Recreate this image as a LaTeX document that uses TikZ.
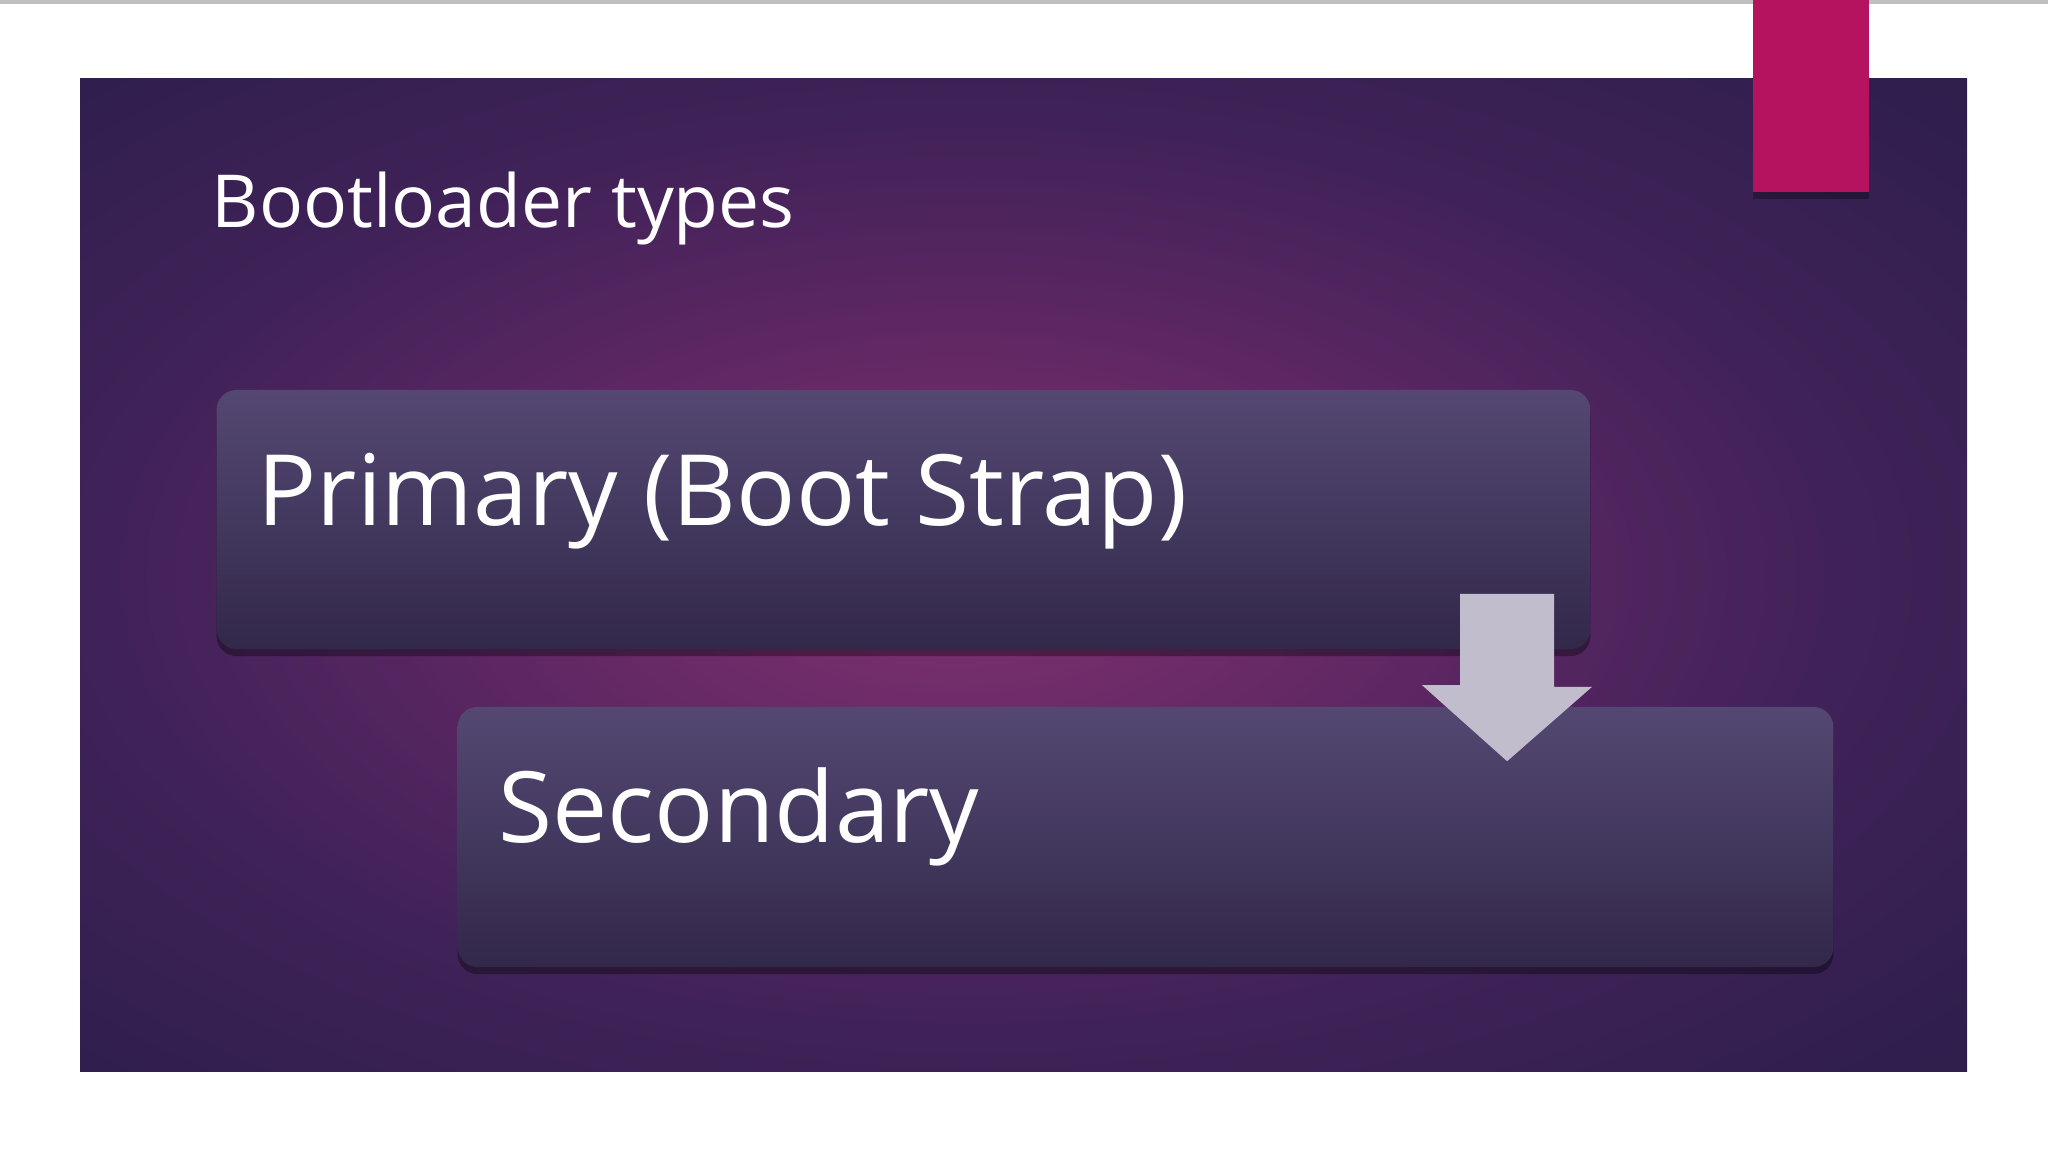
\documentclass[tikz,border=0pt]{standalone}
\usepackage{fontspec}
\setmainfont{Open Sans}
\usepackage{tikz}
\usetikzlibrary{calc}
\usetikzlibrary{shadows}

\definecolor{glowmid}{RGB}{118,46,108}
\definecolor{glowring}{RGB}{90,38,98}
\definecolor{glowouter}{RGB}{64,34,88}
\definecolor{glowedge}{RGB}{48,31,78}
\definecolor{glowcorner}{RGB}{36,30,70}
\definecolor{boxtop}{RGB}{84,72,114}
\definecolor{boxbot}{RGB}{50,40,74}
\definecolor{arrowgrey}{RGB}{194,189,204}
\definecolor{tabpink}{RGB}{181,19,95}

\pgfdeclareradialshading{slideglow}{\pgfpoint{-2bp}{0bp}}{%
  color(0bp)=(glowmid); color(4bp)=(glowmid); color(14bp)=(glowring);
  color(23bp)=(glowouter); color(34bp)=(glowedge); color(50bp)=(glowcorner);
  color(71bp)=(glowcorner)}

\tikzset{
  stepbox/.style={rounded corners=0.2cm, top color=boxtop, bottom color=boxbot,
    drop shadow={fill=black, shadow xshift=0pt, shadow yshift=-2pt, opacity=0.35}},
  boxlabel/.style={text=white, font=\fontsize{28}{33}\selectfont, inner sep=0pt},
  blockarrow/.style={fill=arrowgrey}
}

\begin{document}
\begin{tikzpicture}[x=0.01cm,y=-0.01cm]
    \useasboundingbox (0,0) rectangle (2048,1152);
    \fill[white] (0,0) rectangle (2048,1152);
    \draw[black!25, line width=1.5pt] (0,1) -- (2048,1);
    % slide background
    \shade[shading=slideglow] (80,79) rectangle (1967,1071);
    \fill[tabpink, drop shadow={fill=black, shadow xshift=0pt, shadow yshift=-2pt, opacity=0.3}]
      (1753,0) rectangle (1869,192);
    \node[anchor=base west, text=white, inner sep=0pt,
      font=\fontsize{20.8}{25}\selectfont] (title) at (211,228) {Bootloader types};
    % the two boxes
    \node[stepbox, minimum width=13.73cm, minimum height=2.59cm] (prim) at (903.5,519.5) {};
    \node[stepbox, minimum width=13.75cm, minimum height=2.60cm] (sec) at (1145.5,837) {};
    \node[boxlabel, anchor=base west] (primtext) at ($(prim.north west)+(41,136)$) {Primary (Boot Strap)};
    \node[boxlabel, anchor=base west] (sectext) at ($(sec.north west)+(41,136)$) {Secondary};
    % arrow from one to the other
    \coordinate (atop) at ($(prim.south east)+(-84,-56)$);
    \coordinate (atip) at ($(sec.north east)+(-327,55)$);
    \fill[blockarrow] (atop) ++(-47,0) -- ++(94,0) -- ++(0,93) -- ++(38,0)
      -- (atip) -- ++(-85,-76) -- ++(38,0) -- cycle;
\end{tikzpicture}
\end{document}
